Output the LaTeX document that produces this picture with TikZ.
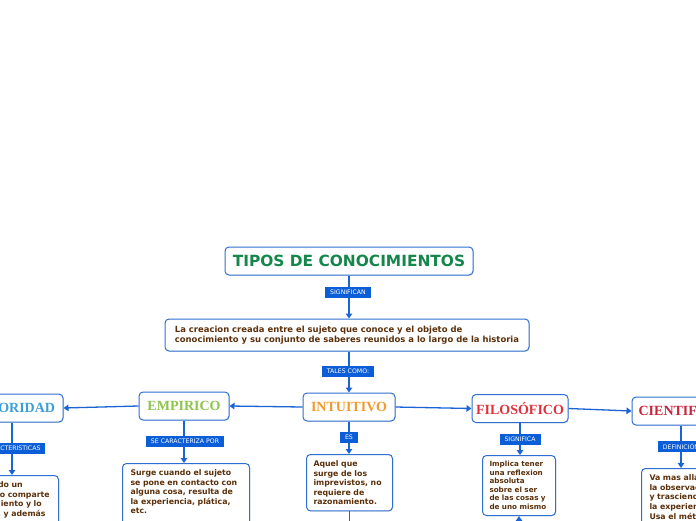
\documentclass[tikz,border=0pt]{standalone}
\usepackage{fontspec}
\setmainfont{DejaVu Sans}
\newfontfamily\hdrfont{Liberation Serif}
\usetikzlibrary{arrows.meta,shadows,calc}
\definecolor{bordblue}{HTML}{2F6FD1}
\definecolor{labblue}{HTML}{0B5ED7}
\definecolor{connblue}{HTML}{1C64D6}
\definecolor{titlegreen}{HTML}{15874B}
\definecolor{bodybrown}{HTML}{5B300B}
\definecolor{intorange}{HTML}{F39A2D}
\definecolor{empgreen}{HTML}{8DC44A}
\definecolor{autblue}{HTML}{3C9FD8}
\definecolor{filred}{HTML}{E0323C}
\definecolor{cienred}{HTML}{C8243E}
\tikzset{
  box/.style={draw=bordblue, line width=1pt, rounded corners=4pt, fill=white,
    drop shadow={shadow xshift=0.8pt, shadow yshift=-0.8pt, opacity=0.2}},
  hdr/.style={box, minimum height=28pt, inner sep=2pt,
    font=\hdrfont\bfseries\fontsize{14}{16}\selectfont},
  lab/.style={fill=labblue, text=white, font=\fontsize{6.2}{7}\selectfont,
    inner xsep=5pt, inner ysep=2pt, minimum height=11pt},
  body/.style={box, align=left, text=bodybrown, anchor=north west,
    font=\bfseries\fontsize{7.8}{9.6}\selectfont, inner xsep=8pt, inner ysep=6pt},
  conn/.style={draw=connblue, line width=1.3pt},
  arr/.style={conn, -{Triangle[length=5pt,width=6.5pt]}}
}
\begin{document}
\begin{tikzpicture}[x=1pt,y=-1pt]
\useasboundingbox (0,0) rectangle (696,520);
\clip (0,0) rectangle (696,520);
\fill[white] (0,0) rectangle (696,520);

% main nodes
\node[box, minimum width=248pt, minimum height=28pt, text=titlegreen,
  font=\bfseries\fontsize{15.4}{18}\selectfont] (title) at (349,261) {TIPOS DE CONOCIMIENTOS};
\node[box, minimum width=364pt, minimum height=32pt, align=left, text=bodybrown,
  font=\bfseries\fontsize{8.45}{10}\selectfont] (desc) at (347,335)
  {La creacion creada entre el sujeto que conoce y el objeto de\\conocimiento y su conjunto de saberes reunidos a lo largo de la historia};

\node[hdr, minimum width=92pt, text=intorange] (intu) at (349,407) {INTUITIVO};
\node[hdr, minimum width=90pt, text=empgreen] (emp) at (184,406) {EMPIRICO};
\node[hdr, minimum width=102pt, text=autblue] (aut) at (12,408) {AUTORIDAD};
\node[hdr, minimum width=96pt, text=filred] (fil) at (520,408.5) {FILOSÓFICO};
\node[hdr, minimum width=98pt, text=cienred] (cien) at (681,411) {CIENTIFICO};

% bodies
\node[body, text width=86pt] (autb) at (-44,475)
  {Es cuando un\\individuo comparte\\conocimiento y lo\\difunde, y además\\cuenta};
\node[body, text width=111pt] (empb) at (122,463)
  {Surge cuando el sujeto\\se pone en contacto con\\alguna cosa, resulta de\\la experiencia, plática,\\etc.\\\mbox{}};
\node[body, text width=72pt, inner xsep=7pt] (intb) at (306,454)
  {Aquel que\\surge de los\\imprevistos, no\\requiere de\\razonamiento.};
\node[body, text width=59pt, inner xsep=7pt, font=\bfseries\fontsize{7.2}{8.5}\selectfont] (filb) at (482,455)
  {Implica tener\\una reflexion\\absoluta\\sobre el ser\\de las cosas y\\de uno mismo};
\node[body, text width=100pt] (cienb) at (641,468)
  {Va mas allá de\\la observación\\y trasciende\\la experiencia.\\Usa el método\\científico};

% connectors
\draw[arr] (title.south) -- (title.south |- desc.north);
\draw[arr] (intu.north |- desc.south) -- (intu.north);
\draw[arr] (intu.west) -- (emp.east);
\draw[arr] (emp.west) -- (aut.east);
\draw[arr] (intu.east) -- (fil.west);
\draw[arr] (fil.east) -- (cien.west);
\draw[arr] (aut.south) -- (aut.south |- autb.north);
\draw[arr] (emp.south) -- (emp.south |- empb.north);
\draw[arr] (intu.south) -- (intu.south |- intb.north);
\draw[arr] (fil.south) -- (fil.south |- filb.north);
\draw[arr] (cien.south) -- (cien.south |- cienb.north);
\coordinate (intout) at (349,535);
\draw[conn] (intb.south) -- (intb.south |- intout);
\coordinate (filin) at (519,540);
\draw[arr] (filb.south |- filin) -- (filb.south);

% labels
\node[lab] (l1) at (348,292) {SIGNIFICAN};
\node[lab] (l2) at (348,371.5) {TALES COMO:};
\node[lab] (l3) at (12,448.5) {CARACTERISTICAS};
\node[lab] (l4) at (185,441.5) {SE CARACTERIZA POR};
\node[lab] (l5) at (349,437) {ES};
\node[lab] (l6) at (520,439.5) {SIGNIFICA};
\node[lab] (l7) at (681,446.5) {DEFINICIÓN};
\end{tikzpicture}
\end{document}
